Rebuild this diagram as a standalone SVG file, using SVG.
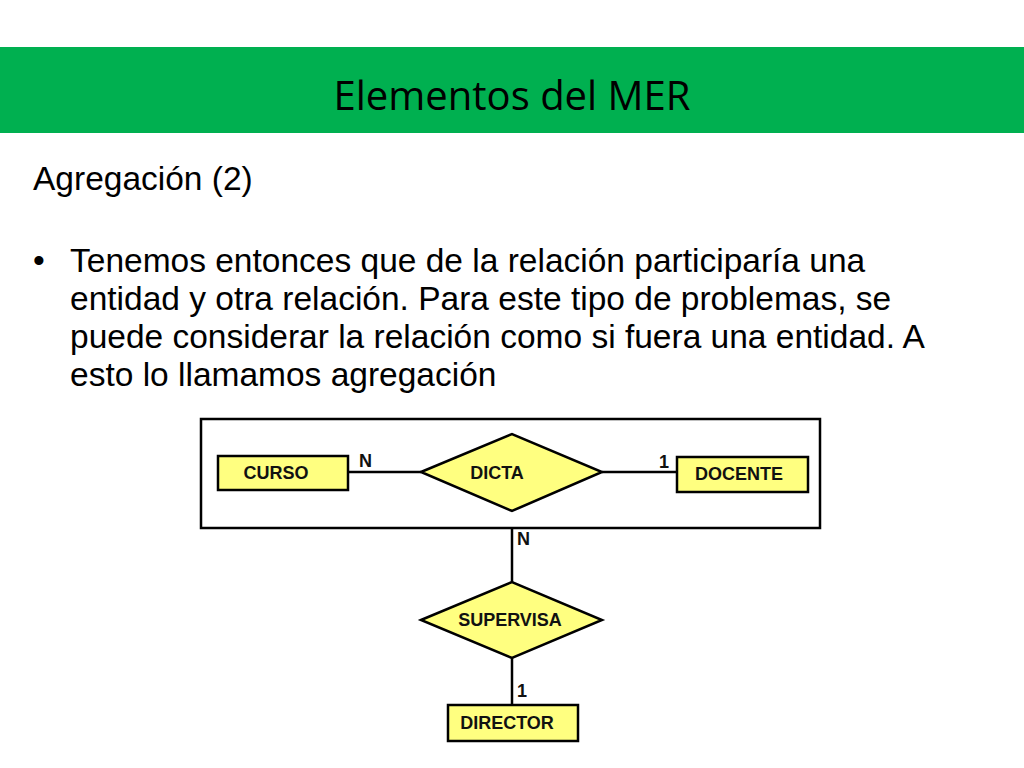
<svg xmlns="http://www.w3.org/2000/svg" width="1024" height="768" viewBox="0 0 1024 768">
<style>
.b{font-family:"Liberation Sans",Arial,sans-serif;font-size:33.5px;fill:#000}
.e{fill:#ffff80;stroke:#000;stroke-width:2.5}
.l{font-family:"Liberation Sans",Arial,sans-serif;font-weight:bold;font-size:18px;fill:#111}
.c{stroke:#000;stroke-width:2.5;fill:none}
</style>
<rect width="1024" height="768" fill="#fff"/>
<rect x="0" y="47" width="1024" height="86" fill="#00b050"/>
<text x="512" y="110" text-anchor="middle" font-family="'Open Sans',sans-serif" font-size="40" fill="#000">Elementos del MER</text>
<text class="b" x="33" y="190">Agregación (2)</text>
<text class="b" x="33" y="272">•</text>
<text class="b" x="70" y="272">Tenemos entonces que de la relación participaría una</text>
<text class="b" x="70" y="310">entidad y otra relación. Para este tipo de problemas, se</text>
<text class="b" x="70" y="348">puede considerar la relación como si fuera una entidad. A</text>
<text class="b" x="70" y="386">esto lo llamamos agregación</text>
<g id="connectors">
<line class="c" x1="348" y1="472" x2="421" y2="472"/>
<line class="c" x1="602" y1="472" x2="677" y2="472"/>
<line class="c" x1="512" y1="528" x2="512" y2="582"/>
<line class="c" x1="512" y1="658" x2="512" y2="705"/>
<text class="l" x="359" y="467">N</text>
<text class="l" x="659" y="468">1</text>
<text class="l" x="517" y="545">N</text>
<text class="l" x="517" y="697">1</text>
</g>
<g id="aggregation"><rect x="201" y="419" width="619" height="109" fill="none" stroke="#000" stroke-width="2.5"/></g>
<g id="curso"><rect class="e" x="218" y="456" width="130" height="34"/><text class="l" x="276" y="479" text-anchor="middle">CURSO</text></g>
<g id="dicta"><polygon class="e" points="421,472 512,434 602,472 512,511"/><text class="l" x="497" y="479" text-anchor="middle">DICTA</text></g>
<g id="docente"><rect class="e" x="677" y="457" width="131" height="35"/><text class="l" x="739" y="480" text-anchor="middle">DOCENTE</text></g>
<g id="supervisa"><polygon class="e" points="421,620 512,582 602,620 512,658"/><text class="l" x="510" y="626" text-anchor="middle">SUPERVISA</text></g>
<g id="director"><rect class="e" x="448" y="705" width="130" height="36"/><text class="l" x="507" y="729" text-anchor="middle">DIRECTOR</text></g>
</svg>
